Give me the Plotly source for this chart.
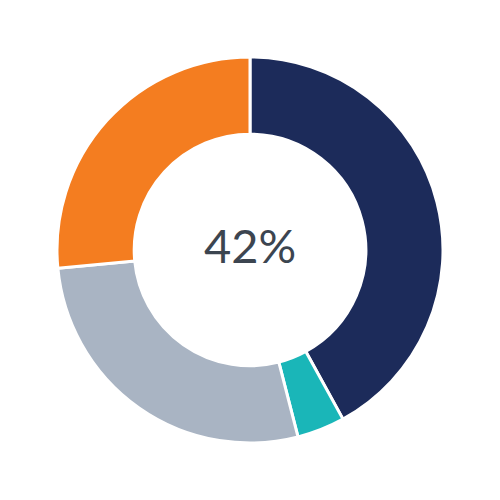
import plotly.graph_objects as go

labels = ["Navy", "Teal", "Gray", "Orange"]
values = [42, 4, 27.5, 26.5]
colors = ["#1c2b5a", "#1ab6b8", "#a9b4c3", "#f47d20"]
center_label = f"{values[0]:g}%"

fig = go.Figure(go.Pie(
    labels=labels,
    values=values,
    hole=0.6,
    sort=False,
    direction="clockwise",
    rotation=0,
    textinfo="none",
    hoverinfo="none",
    marker=dict(colors=colors, line=dict(color="white", width=3)),
))
fig.add_annotation(
    text=center_label, x=0.5, y=0.5, xref="paper", yref="paper",
    yshift=5,
    showarrow=False, font=dict(family="Lato", size=47, color="#3c4550"),
)
fig.update_layout(
    width=500, height=500, autosize=False,
    margin=dict(l=49, r=65, t=49, b=65),
    showlegend=False,
    paper_bgcolor="white", plot_bgcolor="white",
)
fig.write_html("out.html")
